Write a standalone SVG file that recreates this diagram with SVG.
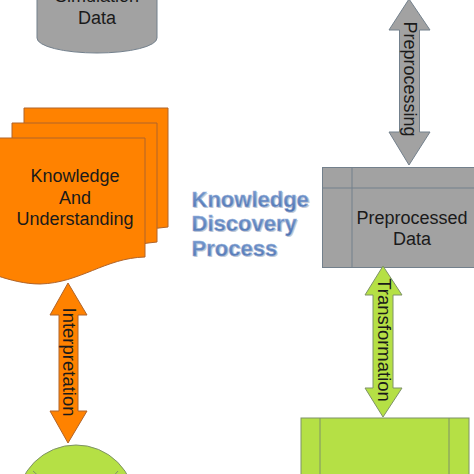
<svg xmlns="http://www.w3.org/2000/svg" width="474" height="474" viewBox="0 0 474 474">
  <defs>
    <linearGradient id="kdp" x1="0" y1="0" x2="0" y2="1">
      <stop offset="0" stop-color="#7ea0d4"/>
      <stop offset="1" stop-color="#4f73b0"/>
    </linearGradient>
  </defs>
  <style>
    .lbl { font-family: "Liberation Sans", Arial, sans-serif; font-size: 18px; fill: #1a1a1a; text-anchor: middle; }
    .orange { fill: #ff8200; stroke: #b0642a; stroke-width: 1; }
    .gray { fill: #a2a2a2; stroke: #73808c; stroke-width: 1; }
    .green { fill: #b5e045; stroke: #7e9268; stroke-width: 1; }
    .title { font-family: "Liberation Sans", Arial, sans-serif; font-size: 22px; font-weight: bold; }
  </style>
  <rect width="474" height="474" fill="#ffffff"/>

  <g id="simulation-data">
    <path class="gray" d="M37,-40 V38 A60,15 0 0 0 157,38 V-40 Z"/>
    <text class="lbl" x="97" y="2">Simulation</text>
    <text class="lbl" x="97" y="24">Data</text>
  </g>

  <g id="knowledge">
    <path class="orange" d="M24,108 H168 V227 C140,229 115,240 90,250 L24,250 Z"/>
    <path class="orange" d="M12,123 H157 V242 C130,244 105,255 80,265 L12,265 Z"/>
    <path class="orange" d="M-2,138 H145 V257 C105,258 80,283 40,284 C25,284 10,280 -2,276 Z"/>
    <text class="lbl" x="75" y="182" fill="#2a1a0a">Knowledge</text>
    <text class="lbl" x="75" y="204" fill="#2a1a0a">And</text>
    <text class="lbl" x="75" y="225" fill="#2a1a0a">Understanding</text>
  </g>

  <g id="title">
    <text class="title" x="192.8" y="207.8" fill="#c8ccd6">Knowledge</text>
    <text class="title" x="192.8" y="231.8" fill="#c8ccd6">Discovery</text>
    <text class="title" x="192.8" y="256.8" fill="#c8ccd6">Process</text>
    <text class="title" x="191.5" y="206.5" fill="url(#kdp)" stroke="#9db6de" stroke-width="0.4">Knowledge</text>
    <text class="title" x="191.5" y="230.5" fill="url(#kdp)" stroke="#9db6de" stroke-width="0.4">Discovery</text>
    <text class="title" x="191.5" y="255.5" fill="url(#kdp)" stroke="#9db6de" stroke-width="0.4">Process</text>
  </g>

  <g id="preprocessed-data">
    <rect class="gray" x="322.5" y="167.5" width="160" height="100"/>
    <line x1="322.5" y1="188" x2="482" y2="188" stroke="#73808c"/>
    <line x1="352" y1="167.5" x2="352" y2="267.5" stroke="#73808c"/>
    <text class="lbl" x="412" y="224">Preprocessed</text>
    <text class="lbl" x="412" y="245">Data</text>
  </g>

  <g id="transformed-data">
    <rect class="green" x="301" y="418" width="168" height="70"/>
    <line x1="320" y1="418" x2="320" y2="480" stroke="#7e9268"/>
    <line x1="449" y1="418" x2="449" y2="480" stroke="#7e9268"/>
  </g>

  <g id="patterns">
    <circle class="green" cx="76" cy="504" r="59"/>
    <line x1="33" y1="471" x2="43" y2="480" stroke="#7e9268"/>
    <line x1="118" y1="471" x2="110" y2="480" stroke="#7e9268"/>
  </g>

  <g id="connectors">
    <g id="preprocessing">
      <path class="gray" d="M409,-1 L430,30 H419.5 V132 H430 L409,165 L389,132 H399.5 V30 H389 Z"/>
      <text class="lbl" transform="translate(404,79) rotate(90)" x="0" y="0">Preprocessing</text>
    </g>
    <g id="transformation">
      <path class="green" d="M383,266 L402,295 H393 V388 H402 L383,417 L365,388 H373 V295 H365 Z"/>
      <text class="lbl" style="font-size:18.5px" transform="translate(378,340) rotate(90)" x="0" y="0">Transformation</text>
    </g>
    <g id="interpretation">
      <path class="orange" d="M68,283 L87,315 H78 V411 H87 L68,443 L50,411 H59 V315 H50 Z"/>
      <text class="lbl" style="font-size:18.5px" transform="translate(63,362) rotate(90)" x="0" y="0">Interpretation</text>
    </g>
  </g>
</svg>
